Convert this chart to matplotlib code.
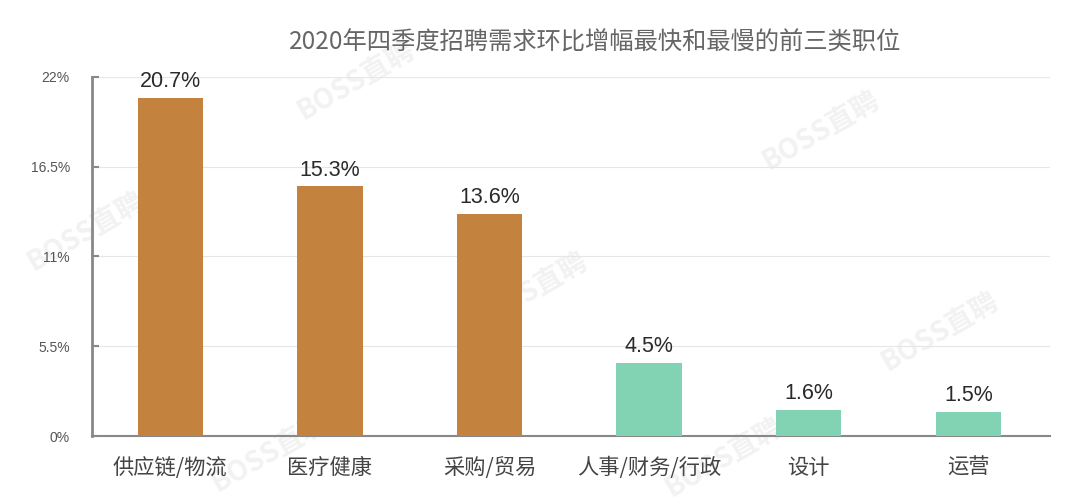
import matplotlib
matplotlib.use('Agg')
import matplotlib.pyplot as plt

plt.rcParams['font.family'] = ['Noto Sans CJK SC', 'DejaVu Sans']

categories = ['供应链/物流', '医疗健康', '采购/贸易', '人事/财务/行政', '设计', '运营']
values = [20.7, 15.3, 13.6, 4.5, 1.6, 1.5]
bar_colors = ['#C4823F'] * 3 + ['#82D2B4'] * 3
yticks = [0, 5.5, 11, 16.5, 22]
ytick_labels = ['0%', '5.5%', '11%', '16.5%', '22%']
title = '2020年四季度招聘需求环比增幅最快和最慢的前三类职位'

fig = plt.figure(figsize=(10.8, 5.03), dpi=100)
ax = fig.add_axes([0.0852, 0.1332, 0.8868, 0.7138])
ax.set_zorder(1)

# faint watermarks behind the plot
marks = [(0.33, 0.84), (0.76, 0.74), (0.08, 0.54), (0.49, 0.42), (0.87, 0.34),
         (0.25, 0.1), (0.67, 0.09)]
for mx, my in marks:
    fig.text(mx, my, 'BOSS直聘', fontsize=20, color='#f2f2f2', rotation=30,
             ha='center', va='center', fontweight='bold', zorder=0)

x = range(len(categories))
ax.bar(x, values, width=0.41, color=bar_colors, zorder=3)
for i, v in enumerate(values):
    ax.text(i, v + 0.35, f'{v}%', ha='center', va='bottom', fontsize=15.5,
            color='#2a2a2a', family=['Liberation Sans', 'DejaVu Sans'])

ax.set_xlim(-0.49, 5.51)
ax.set_ylim(0, 22)
ax.set_yticks(yticks)
ax.set_yticklabels(ytick_labels, fontsize=10, color='#555555',
                   family=['Liberation Sans', 'DejaVu Sans'])
ax.set_xticks(list(x))
ax.set_xticklabels(categories, fontsize=15.3, color='#444444')
ax.tick_params(axis='x', length=0, pad=15)
ax.tick_params(axis='y', direction='in', length=5, width=1.5, color='#888888', pad=16)
ax.grid(axis='y', color='#e6e6e6', linewidth=0.8, zorder=0)

for s in ['top', 'right']:
    ax.spines[s].set_visible(False)
ax.spines['left'].set_color('#888888')
ax.spines['left'].set_linewidth(2)
ax.spines['bottom'].set_color('#888888')
ax.spines['bottom'].set_linewidth(1.5)
ax.patch.set_alpha(0)

fig.text(0.551, 0.915, title, ha='center', va='center', fontsize=17.5,
         color='#666666', fontweight='medium')

fig.savefig('out.png', dpi=100)
